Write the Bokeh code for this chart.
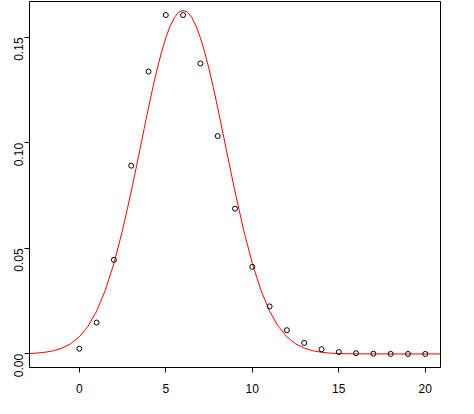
import math
from bokeh.plotting import figure
from bokeh.models import Range1d, FixedTicker, CustomJSTickFormatter
from bokeh.embed import file_html
from bokeh.resources import INLINE

# Points (observed probabilities)
pt_x = [0, 1, 2, 3, 4, 5, 6, 7, 8, 9, 10, 11, 12, 13, 14, 15, 16, 17, 18, 19, 20]
pt_y = [0.00248, 0.01487, 0.04462, 0.08924, 0.13385, 0.16062, 0.16062, 0.13768,
        0.10326, 0.06884, 0.04130, 0.02253, 0.01126, 0.00520, 0.00223, 0.00089,
        0.00033, 0.00012, 0.00004, 0.00001, 0.000004]

# Red curve, read along its course
cv_x = [-3, -2.5, -2, -1.5, -1, -0.5, 0, 0.5, 1, 1.5, 2, 2.5, 3, 3.5, 3.75, 4, 4.25,
        4.5, 4.75, 5, 5.25, 5.5, 5.75, 6, 6.25, 6.5, 6.75, 7, 7.25, 7.5, 7.75, 8,
        8.25, 8.5, 9, 9.5, 10, 10.5, 11, 11.5, 12, 12.5, 13, 13.5, 14, 14.5, 15,
        15.5, 16, 17, 18, 19, 20, 21]
cv_y = [0.000191, 0.000395, 0.000786, 0.00150, 0.00275, 0.00482, 0.00811, 0.01309,
        0.02028, 0.03013, 0.04293, 0.05868, 0.07693, 0.09675, 0.10681, 0.11670,
        0.12619, 0.13502, 0.14299, 0.14985, 0.15541, 0.15951, 0.16202, 0.16287,
        0.16202, 0.15951, 0.15541, 0.14985, 0.14299, 0.13502, 0.12619, 0.11670,
        0.10681, 0.09675, 0.07693, 0.05868, 0.04293, 0.03013, 0.02028, 0.01309,
        0.00811, 0.00482, 0.00275, 0.00150, 0.000786, 0.000395, 0.000191,
        0.0000883, 0.0000391, 0.0000068, 0.000001, 0.0, 0.0, 0.0]

x_ticks = [0, 5, 10, 15, 20]
y_ticks = [0.00, 0.05, 0.10, 0.15]

p = figure(width=458, height=398, output_backend="svg", toolbar_location=None,
           x_range=Range1d(-2.88, 20.88), y_range=Range1d(-0.006425, 0.167045),
           min_border_left=29, min_border_right=18, min_border_top=1,
           min_border_bottom=31)
p.grid.visible = False
p.outline_line_color = "black"
p.outline_line_width = 1
p.background_fill_color = "white"
p.border_fill_color = "white"

for ax in (p.xaxis[0], p.yaxis[0]):
    ax.axis_line_color = None
    ax.major_tick_in = 0
    ax.major_tick_out = 5
    ax.minor_tick_line_color = None
    ax.major_tick_line_color = "black"
    ax.major_label_text_font = "Liberation Sans"
    ax.major_label_text_font_size = "12px"
    ax.major_label_text_color = "black"

p.xaxis[0].ticker = FixedTicker(ticks=x_ticks)
p.xaxis[0].major_label_standoff = 11
p.yaxis[0].ticker = FixedTicker(ticks=y_ticks)
p.yaxis[0].formatter = CustomJSTickFormatter(code="return tick.toFixed(2);")
p.yaxis[0].major_label_orientation = math.pi / 2
p.yaxis[0].major_label_standoff = 6

p.line(cv_x, cv_y, line_color="#FF0000", line_width=1)
p.scatter(pt_x, pt_y, marker="circle", size=5, fill_color=None,
          line_color="black", line_width=1)

open("out.html", "w").write(file_html(p, INLINE))
